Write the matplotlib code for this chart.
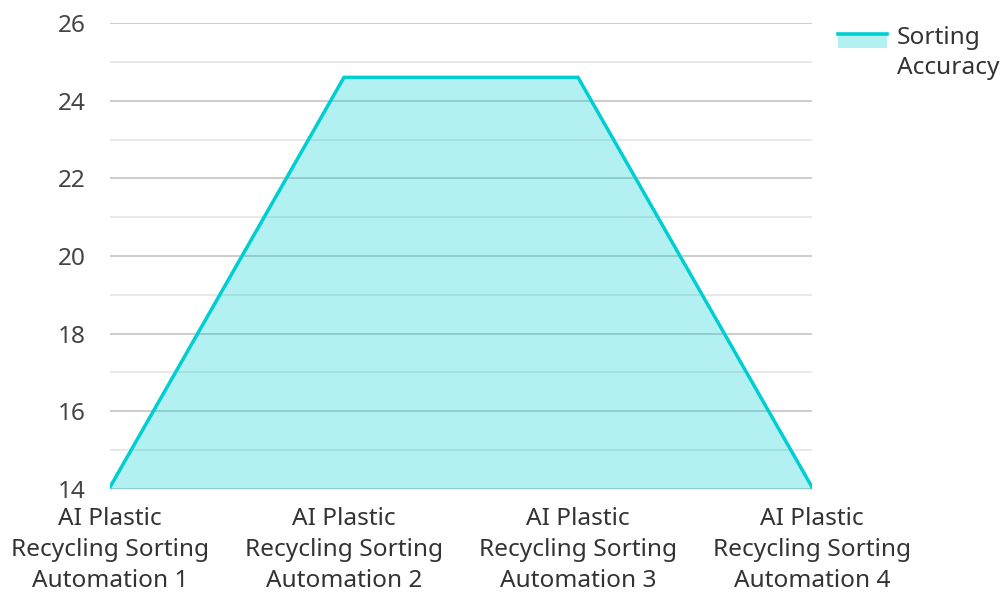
import matplotlib
matplotlib.use("Agg")
import matplotlib.pyplot as plt
from matplotlib.patches import Rectangle
from matplotlib.lines import Line2D

plt.rcParams['font.family'] = ['Noto Sans', 'DejaVu Sans']

# data
categories = ["AI Plastic\nRecycling Sorting\nAutomation 1",
              "AI Plastic\nRecycling Sorting\nAutomation 2",
              "AI Plastic\nRecycling Sorting\nAutomation 3",
              "AI Plastic\nRecycling Sorting\nAutomation 4"]
accuracy = [14.05, 24.6, 24.6, 14.05]
series_name = "Sorting\nAccuracy"

line_color = "#00CED1"
fs = 17.6


class AreaHandler:
    # line on top edge, light patch below it, level with first text line
    def legend_artist(self, legend, orig_handle, fontsize, handlebox):
        x0, y0 = handlebox.xdescent, handlebox.ydescent
        w, h = handlebox.width, handlebox.height
        ly = y0 + h * 0.5 + 14.5
        tr = handlebox.get_transform()
        rect = Rectangle((x0, ly - 10.5), w, 10.5, facecolor=line_color,
                         alpha=0.3, edgecolor='none', transform=tr)
        ln = Line2D([x0, x0 + w], [ly, ly], color=line_color, linewidth=2.6, transform=tr)
        handlebox.add_artist(rect)
        handlebox.add_artist(ln)
        return ln


fig = plt.figure(figsize=(10.02, 5.94), dpi=100)
ax = fig.add_axes([110/1002, 1 - 489/594, (812 - 110)/1002, (489 - 23)/594])

x = list(range(len(categories)))
area = ax.fill_between(x, accuracy, 14, color=line_color, alpha=0.3, linewidth=0, zorder=2)
ax.plot(x, accuracy, color=line_color, linewidth=2.5, zorder=3, solid_joinstyle='miter')

ax.set_xlim(0, len(categories) - 1)
ax.set_ylim(14, 26)
ax.set_yticks(range(14, 27, 2))
ax.set_yticks(range(15, 26, 2), minor=True)
ax.grid(True, which='major', axis='y', color='#c8c8c8', linewidth=1.3, zorder=1)
ax.grid(True, which='minor', axis='y', color='#e6e6e6', linewidth=1.3, zorder=1)
ax.set_axisbelow(True)

ax.set_xticks(x)
ax.set_xticklabels(categories, fontsize=fs, color='#333333', linespacing=1.4)
ax.tick_params(axis='y', which='both', length=0, labelsize=fs, labelcolor='#444444', pad=17.5)
ax.tick_params(axis='x', length=0, pad=13)
for s in ax.spines.values():
    s.set_visible(False)

leg = fig.legend([area], [series_name], loc='upper left',
                 bbox_to_anchor=(838/1002, 1 - 26/594), frameon=False,
                 borderpad=0, borderaxespad=0,
                 fontsize=fs, handlelength=2.0, handletextpad=0.42,
                 handler_map={type(area): AreaHandler()})
for t in leg.get_texts():
    t.set_color('#333333')
    t.set_linespacing(1.36)

fig.savefig("out.png", dpi=100)
